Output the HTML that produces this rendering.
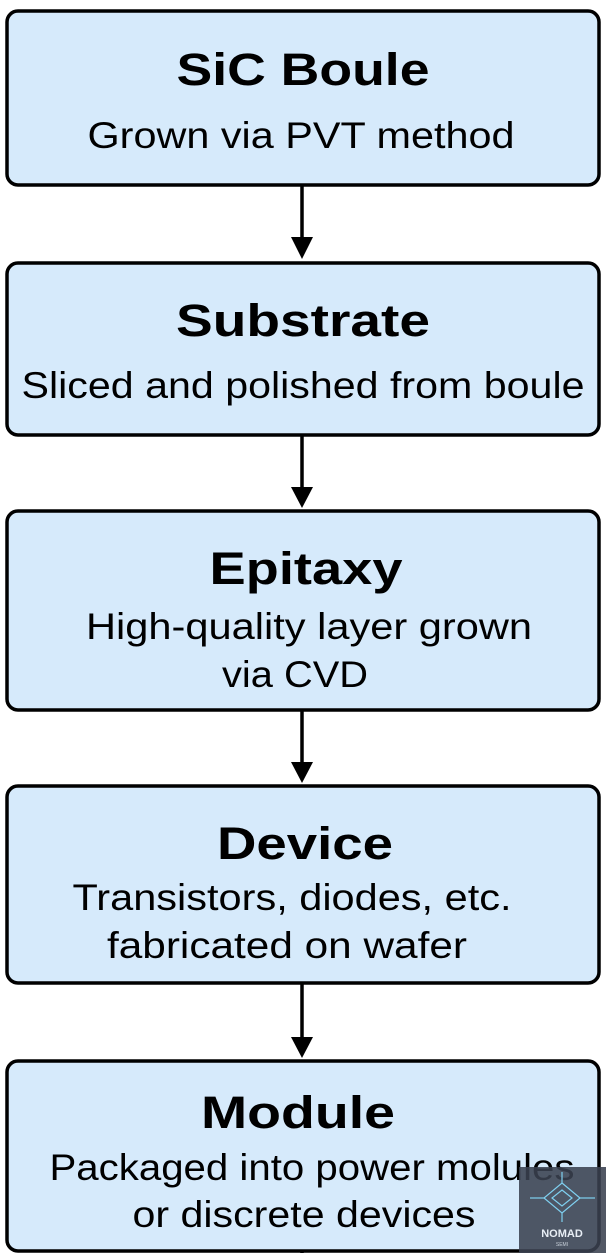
<!DOCTYPE html>
<html><head><meta charset="utf-8"><style>
html,body{margin:0;padding:0;background:#fff;}
svg{display:block;}
text{font-family:"Liberation Sans",Arial,sans-serif;fill:#000;}
.t{font-weight:bold;font-size:45px;}
.s{font-size:37px;}
</style></head><body>
<svg width="606" height="1253" viewBox="0 0 606 1253" xmlns="http://www.w3.org/2000/svg">
<g fill="#d6eafb" stroke="#000" stroke-width="3.5">
<rect x="7" y="11" width="592" height="174" rx="11"/>
<rect x="7" y="263" width="592" height="172" rx="11"/>
<rect x="7" y="511" width="592" height="199" rx="11"/>
<rect x="7" y="786" width="592" height="197" rx="11"/>
<rect x="7" y="1061" width="592" height="190" rx="11"/>
</g>
<g stroke="#000" stroke-width="3.5">
<line x1="302" y1="185" x2="302" y2="240"/>
<line x1="302" y1="435" x2="302" y2="490"/>
<line x1="302" y1="710" x2="302" y2="765"/>
<line x1="302" y1="983" x2="302" y2="1040"/>
<line x1="302" y1="1251" x2="302" y2="1253"/>
</g>
<g fill="#000">
<polygon points="291,237 313,237 302,259"/>
<polygon points="291,487 313,487 302,508"/>
<polygon points="291,762 313,762 302,783"/>
<polygon points="291,1037 313,1037 302,1058"/>
</g>
<text class="t" x="303" y="85" text-anchor="middle" textLength="253" lengthAdjust="spacingAndGlyphs">SiC Boule</text>
<text class="s" x="301" y="148" text-anchor="middle" textLength="427" lengthAdjust="spacingAndGlyphs">Grown via PVT method</text>
<text class="t" x="303" y="336" text-anchor="middle" textLength="254" lengthAdjust="spacingAndGlyphs">Substrate</text>
<text class="s" x="303" y="398" text-anchor="middle" textLength="563" lengthAdjust="spacingAndGlyphs">Sliced and polished from boule</text>
<text class="t" x="306" y="584" text-anchor="middle" textLength="193" lengthAdjust="spacingAndGlyphs">Epitaxy</text>
<text class="s" x="309" y="639" text-anchor="middle" textLength="446" lengthAdjust="spacingAndGlyphs">High-quality layer grown</text>
<text class="s" x="295" y="687" text-anchor="middle" textLength="146" lengthAdjust="spacingAndGlyphs">via CVD</text>
<text class="t" x="305" y="859" text-anchor="middle" textLength="176" lengthAdjust="spacingAndGlyphs">Device</text>
<text class="s" x="292" y="910" text-anchor="middle" textLength="439" lengthAdjust="spacingAndGlyphs">Transistors, diodes, etc.</text>
<text class="s" x="287" y="958" text-anchor="middle" textLength="360" lengthAdjust="spacingAndGlyphs">fabricated on wafer</text>
<text class="t" x="298" y="1128" text-anchor="middle" textLength="194" lengthAdjust="spacingAndGlyphs">Module</text>
<text class="s" x="312" y="1180" text-anchor="middle" textLength="525" lengthAdjust="spacingAndGlyphs">Packaged into power molules</text>
<text class="s" x="304" y="1227" text-anchor="middle" textLength="343" lengthAdjust="spacingAndGlyphs">or discrete devices</text>
<rect x="519" y="1167" width="87" height="86" fill="#3a4150" fill-opacity="0.88"/>
<g stroke="#7fd0f0" stroke-width="1.2" fill="none">
<polygon points="562,1183 580,1198 562,1213 544,1198"/>
<polygon points="562,1190 572,1198 562,1206 552,1198"/>
<line x1="530" y1="1198" x2="544" y2="1198"/><line x1="580" y1="1198" x2="595" y2="1198"/>
<line x1="562" y1="1172" x2="562" y2="1183"/><line x1="562" y1="1213" x2="562" y2="1222"/>
</g>
<text x="562" y="1237" text-anchor="middle" style="font-size:11px;font-weight:bold;fill:#e8eef5">NOMAD</text>
<text x="562" y="1246" text-anchor="middle" style="font-size:5px;fill:#c8d0da">SEMI</text>
</svg>
</body></html>
